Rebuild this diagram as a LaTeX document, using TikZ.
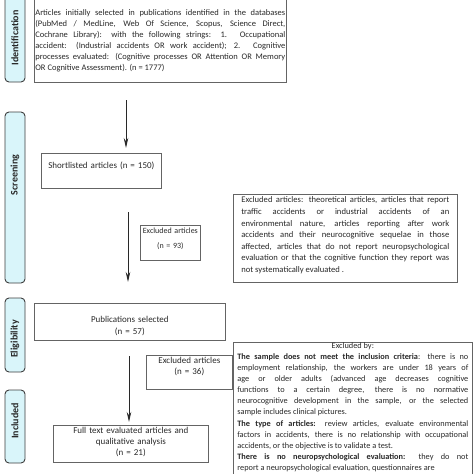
\documentclass[tikz,border=0pt]{standalone}
\usepackage{fontspec}
\setmainfont{Carlito}
\usetikzlibrary{arrows.meta,positioning}
\definecolor{stagecyan}{RGB}{217,245,250}
\definecolor{boxgray}{RGB}{100,100,100}
\definecolor{inkgray}{RGB}{40,40,40}

\begin{document}
\begin{tikzpicture}[x=1pt, y=-1pt,
  every node/.style={font=\fontsize{9}{11}\selectfont, text=inkgray},
  stagebox/.style={draw=inkgray!90, line width=0.9pt, rounded corners=4pt, fill=stagecyan, minimum width=20pt, inner sep=0pt},
  stagetext/.style={rotate=90, font=\fontsize{10}{11}\selectfont\bfseries, inner sep=0pt},
  flowbox/.style={draw=boxgray, line width=0.7pt, anchor=north west, inner ysep=0pt, inner xsep=1pt},
  flowarrow/.style={-{Stealth[length=10pt,width=4.5pt]}, line width=1pt, draw=inkgray}]
  \useasboundingbox (0,0) rectangle (474,474);

  % stages on the left
  \node[stagebox, minimum height=90pt] (ident) at (15,37) {};
  \node[stagetext] (identlbl) at (15,38) {Identification};
  \node[stagebox, minimum height=171pt] (screen) at (15,197.5) {};
  \node[stagetext] (screenlbl) at (15,175) {Screening};
  \node[stagebox, minimum height=74pt] (elig) at (15,335) {};
  \node[stagetext] (eliglbl) at (15,339) {Eligibility};
  \node[stagebox, minimum height=73pt] (incl) at (15,426.5) {};
  \node[stagetext] (incllbl) at (15,421) {Included};

  % main column
  \node[flowbox, text width=250pt, align=justify, text height=19pt, text depth=67pt,
        font=\fontsize{8.5}{11.1}\selectfont] (records) at (34,-4)
    {Articles initially selected in publications identified in the databases\linebreak
     (PubMed / MedLine, Web Of Science, Scopus, Science Direct,\linebreak
     Cochrane Library): with the following strings: 1. Occupational\linebreak
     accident: (Industrial accidents OR work accident); 2. Cognitive\linebreak
     processes evaluated: (Cognitive processes OR Attention OR Memory\linebreak
     OR Cognitive Assessment). (n = 1777)};
  \node[flowbox, text width=118pt, align=center, text height=15.5pt, text depth=19.5pt] (shortlist) at (41,153)
    {Shortlisted articles (n = 150)};
  \node[flowbox, text width=189pt, align=center, text height=19pt, text depth=18pt] (pubsel) at (34,303)
    {Publications selected\\[1pt](n = 57)};
  \node[flowbox, text width=153pt, align=center, text height=8.5pt, text depth=28.5pt] (fulltext) at (53,425)
    {Full text evaluated articles and\\qualitative analysis\\(n = 21)};

  % exclusions
  \node[flowbox, text width=60pt, inner xsep=0pt, align=center, text height=8.5pt, text depth=26.5pt,
        font=\fontsize{8}{11}\selectfont] (exclshort) at (140,225)
    {Excluded articles\\[4pt](n = 93)};
  \node[flowbox, text width=208pt, inner xsep=8pt, align=justify, text height=8.5pt, text depth=79.5pt,
        font=\fontsize{8.6}{11.6}\selectfont] (excltheory) at (233,194)
    {Excluded articles: theoretical articles, articles that report\linebreak
     traffic accidents or industrial accidents of an\linebreak
     environmental nature, articles reporting after work\linebreak
     accidents and their neurocognitive sequelae in those\linebreak
     affected, articles that do not report neuropsychological\linebreak
     evaluation or that the cognitive function they report was\linebreak
     not systematically evaluated .};
  \node[flowbox, text width=84pt, align=center, text height=8.5pt, text depth=25.5pt] (exclpub) at (146,355)
    {Excluded articles\\(n = 36)};
  \node[flowbox, text width=231pt, inner xsep=4pt, align=justify, text height=6pt, text depth=150pt,
        font=\fontsize{8.3}{11.1}\selectfont] (exclcrit) at (233,342)
    {{\centering Excluded by:\par}
     \textbf{The sample does not meet the inclusion criteria}: there is no\linebreak
     employment relationship, the workers are under 18 years of\linebreak
     age or older adults (advanced age decreases cognitive\linebreak
     functions to a certain degree, there is no normative\linebreak
     neurocognitive development in the sample, or the selected\linebreak
     sample includes clinical pictures.\par
     \textbf{The type of articles:} review articles, evaluate environmental\linebreak
     factors in accidents, there is no relationship with occupational\linebreak
     accidents, or the objective is to validate a test.\par
     \textbf{There is no neuropsychological evaluation:} they do not\linebreak
     report a neuropsychological evaluation, questionnaires are\parfillskip=0pt};

  % arrows
  \coordinate (arrowonetop) at (126,100);
  \coordinate (arrowonetip) at (126,148);
  \coordinate (arrowtwotop) at (128,212);
  \coordinate (arrowtwotip) at (128,282);
  \coordinate (arrowthreetop) at (129,356);
  \coordinate (arrowthreetip) at (129,422);
  \foreach \a/\b in {arrowonetop/arrowonetip,arrowtwotop/arrowtwotip,arrowthreetop/arrowthreetip}{\draw[flowarrow] (\a) -- (\b);}
\end{tikzpicture}
\end{document}
